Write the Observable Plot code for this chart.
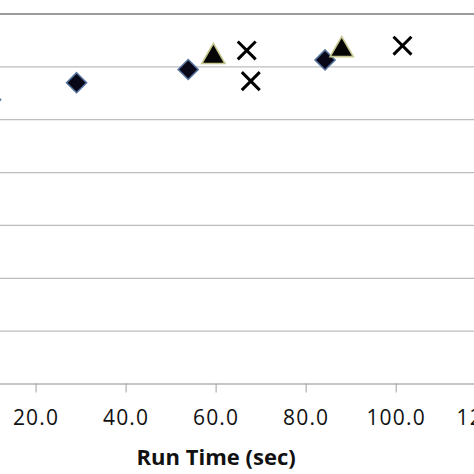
<!DOCTYPE html>
<html>
<head>
<meta charset="utf-8">
<script src="https://cdn.jsdelivr.net/npm/d3@7"></script>
<script src="https://cdn.jsdelivr.net/npm/@observablehq/plot@0.6"></script>
<style>
  html, body { margin: 0; padding: 0; background: #fff; overflow: hidden; }
  #chart svg { display: block; }
  #chart svg g[aria-label="x-axis tick label"] text { letter-spacing: 1.2px; }
</style>
</head>
<body>
<div id="chart"></div>
<script>
// Run time (sec) and score for each of the three method groups
const diamondTime = [9.9, 29.0, 53.8, 84.2];
const diamondScore = [53.8, 57.0, 59.5, 61.3];
const triangleTime = [59.4, 87.9];
const triangleScore = [61.9, 63.2];
const crossTime = [66.8, 67.7, 101.4];
const crossScore = [63.1, 57.3, 64.0];

// Axis settings
const xTicks = [20, 40, 60, 80, 100, 120];
const xVisible = [12.1, 117.4];
const gridLevels = [10, 20, 30, 40, 50, 60];
const topLevel = 70;
const xTitle = "Run Time (sec)";

const pairs = (xs, ys) => xs.map((x, i) => ({time: x, score: ys[i]}));
const diamonds = pairs(diamondTime, diamondScore);
const triangles = pairs(triangleTime, triangleScore);
const crosses = pairs(crossTime, crossScore);

const chart = Plot.plot({
  width: 474,
  height: 474,
  marginTop: 13.5,
  marginBottom: 90.5,
  marginLeft: 0,
  marginRight: 0,
  style: {fontFamily: "'Open Sans', sans-serif", background: "#fff"},
  x: {domain: xVisible},
  y: {domain: [0, topLevel], axis: null},
  marks: [
    Plot.ruleY(gridLevels, {stroke: "#bdbdbd", strokeWidth: 1.2}),
    Plot.ruleY([topLevel], {stroke: "#7a7a7a", strokeWidth: 1.6}),
    Plot.ruleY([0], {stroke: "#b3b3b3", strokeWidth: 1.4}),
    Plot.axisX(xTicks, {
      tickFormat: d3.format(".1f"),
      tickSize: 9,
      tickPadding: 17,
      stroke: "#9f9f9f",
      fill: "#111",
      fontSize: 21,
      label: null
    }),
    Plot.text([(0 + 120) / 2], {
      x: d => d,
      text: () => xTitle,
      frameAnchor: "bottom",
      dy: 81,
      fontSize: 22,
      fontWeight: "bold",
      fill: "#111"
    }),
    Plot.dot(diamonds, {
      x: "time", y: "score", symbol: "diamond2", r: 9,
      fill: "#070718", stroke: "#56749f", strokeWidth: 1.6
    }),
    Plot.dot(triangles, {
      x: "time", y: "score", symbol: "triangle", r: 8.6,
      fill: "#050505", stroke: "#c6c78f", strokeWidth: 1.6
    }),
    Plot.dot(crosses, {
      x: "time", y: "score", symbol: "times", r: 8.2,
      stroke: "#000", strokeWidth: 3
    })
  ]
});
document.getElementById("chart").append(chart);
</script>
</body>
</html>
